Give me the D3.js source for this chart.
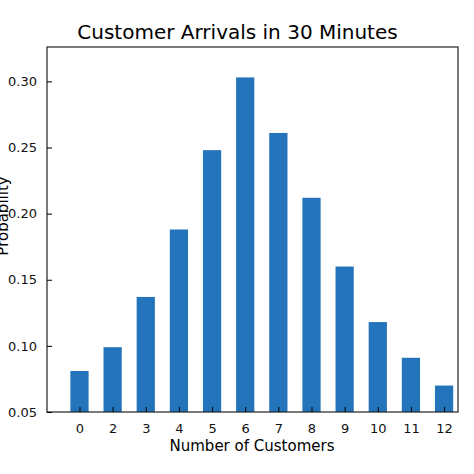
<!DOCTYPE html>
<html>
<head>
<meta charset="utf-8">
<script src="https://cdn.jsdelivr.net/npm/d3@7"></script>
<style>
  body { margin: 0; background: #fff; }
  text { font-family: "DejaVu Sans", sans-serif; }
</style>
</head>
<body>
<svg width="474" height="474"></svg>
<script>
const labels = ['0', '2', '3', '4', '5', '6', '7', '8', '9', '10', '11', '12'];
const probs = [0.081, 0.099, 0.137, 0.188, 0.248, 0.303, 0.261, 0.212, 0.160, 0.118, 0.091, 0.070];
const yTicks = [0.05, 0.10, 0.15, 0.20, 0.25, 0.30];

const plotLeft = 47, plotRight = 458, plotTop = 47, plotBottom = 412;
const svg = d3.select('svg');

const x = d3.scaleLinear().domain([-0.98, 11.42]).range([plotLeft, plotRight]);
const y = d3.scaleLinear().domain([0.05, 0.326]).range([plotBottom, plotTop]);
const barW = x(0.55) - x(0);

svg.selectAll('.bar')
  .data(probs)
  .enter()
  .append('rect')
  .attr('class', 'bar')
  .attr('x', (d, i) => x(i) - barW / 2)
  .attr('y', d => y(d))
  .attr('width', barW)
  .attr('height', d => plotBottom - y(d))
  .attr('fill', '#2474bb');

// frame
svg.append('rect')
  .attr('x', plotLeft).attr('y', plotTop)
  .attr('width', plotRight - plotLeft).attr('height', plotBottom - plotTop)
  .attr('fill', 'none').attr('stroke', '#222').attr('stroke-width', 1.2);

// x axis, ticks pointing in
const xAxis = svg.append('g')
  .attr('transform', `translate(0,${plotBottom})`)
  .call(d3.axisBottom(x).tickValues(d3.range(labels.length))
    .tickFormat(i => labels[i]).tickSizeInner(-5).tickSizeOuter(0).tickPadding(12));
xAxis.select('.domain').remove();
xAxis.selectAll('text').attr('font-size', 13).attr('fill', '#111');

// y axis
const yAxis = svg.append('g')
  .attr('transform', `translate(${plotLeft},0)`)
  .call(d3.axisLeft(y).tickValues(yTicks).tickFormat(d3.format('.2f'))
    .tickSizeInner(-5).tickSizeOuter(0).tickPadding(10));
yAxis.select('.domain').remove();
yAxis.selectAll('text').attr('font-size', 13).attr('fill', '#111');

svg.append('text')
  .attr('x', (plotLeft + plotRight) / 2 - 15).attr('y', 39)
  .attr('text-anchor', 'middle').attr('font-size', 20)
  .text('Customer Arrivals in 30 Minutes');

svg.append('text')
  .attr('x', 252).attr('y', 451)
  .attr('text-anchor', 'middle').attr('font-size', 15)
  .text('Number of Customers');

svg.append('text')
  .attr('transform', 'translate(8,216) rotate(-90)')
  .attr('text-anchor', 'middle').attr('font-size', 15)
  .text('Probability');
</script>
</body>
</html>
